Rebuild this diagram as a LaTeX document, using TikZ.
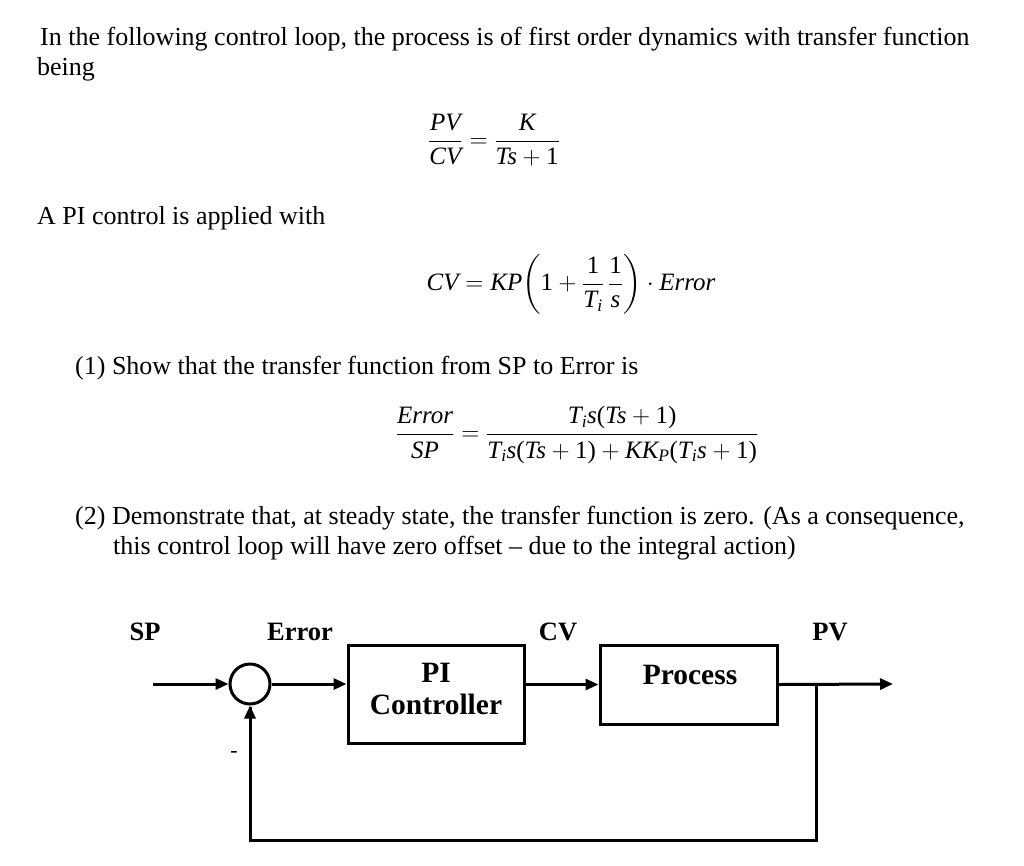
\documentclass[tikz,border=0pt]{standalone}
\usepackage{fix-cm}
\usepackage{amsmath}
\usepackage{fontspec}
\setmainfont{Liberation Serif}
\usetikzlibrary{arrows.meta}
\newcommand{\vi}[1]{\textit{#1}}
\newcommand{\vu}[1]{\textup{#1}}
\begin{document}
\begin{tikzpicture}[x=1pt,y=-1pt,
  txt/.style={anchor=base west, inner sep=0pt, font=\fontsize{26}{30}\selectfont},
  eq/.style={inner sep=0pt, font=\fontsize{25}{30}\selectfont},
  lbl/.style={inner sep=0pt, font=\fontsize{26.5}{30}\selectfont\bfseries},
  blk/.style={draw, line width=3pt, inner sep=0pt},
  blktxt/.style={inner sep=0pt, align=center, font=\fontsize{29.5}{34}\selectfont\bfseries},
  sumc/.style={draw, circle, line width=3pt, minimum size=40pt, inner sep=0pt},
  wire/.style={line width=3pt},
  arr/.style={wire, -{Triangle[length=13pt,width=11pt]}}
]
\useasboundingbox (0,0) rectangle (1024,865);
\fill[white] (0,0) rectangle (1024,865);

\node[txt] (t1) at (40,45) {In the following control loop, the process is of first order dynamics with transfer function};
\node[txt] (t2) at (37,75) {being};
\node[eq] (e1) at (494,140) {$\displaystyle\frac{\vi{PV}}{\vi{CV}}=\frac{\vi{K}}{\vi{Ts}+\vu{1}}$};
\node[txt] (t3) at (37,224) {A PI control is applied with};
\node[eq] (e2) at (571,284) {$\displaystyle \vi{CV} = \vi{KP}\!\left(\vu{1}+\frac{\vu{1}}{\vi{T}_{\vi{i}}}\,\frac{\vu{1}}{\vi{s}}\right)\cdot \vi{Error}$};
\node[txt] (t4) at (75,374) {(1) Show that the transfer function from SP to Error is};
\node[eq] (e3) at (577,435) {$\displaystyle\frac{\vi{Error}}{\vi{SP}}=\frac{\vi{T}_{\vi{i}}\vi{s}\vu{(}\vi{Ts}+\vu{1)}}{\vi{T}_{\vi{i}}\vi{s}\vu{(}\vi{Ts}+\vu{1)}+\vi{KK}_{\vi{P}}\vu{(}\vi{T}_{\vi{i}}\vi{s}+\vu{1)}}$};
\node[txt] (t5) at (75,524) {(2) Demonstrate that, at steady state, the transfer function is zero. (As a consequence,};
\node[txt] (t6) at (113,554) {this control loop will have zero offset – due to the integral action)};

% block diagram
\node[lbl] (lsp) at (145,632) {SP};
\node[lbl] (ler) at (300,632) {Error};
\node[lbl] (lcv) at (558,632) {CV};
\node[lbl] (lpv) at (830,632) {PV};

\node[sumc] (sum) at (250,684) {};
\node[blk, minimum width=176pt, minimum height=98pt] (pi) at (436,694) {};
\node[blktxt] (pitxt) at (436,689) {PI\\[-2pt]Controller};
\node[blk, minimum width=177pt, minimum height=79pt] (proc) at (688.5,684.5) {};
\node[blktxt] (proctxt) at (690,675) {Process};
\node[inner sep=0pt, font=\fontsize{22}{24}\selectfont] (minus) at (234,754) {-};

\coordinate (in) at (153,684);
\coordinate (out) at (893,684);
\coordinate (br) at (816,684);
\coordinate (c1) at (816,840);
\coordinate (c2) at (250,840);

\draw[arr] (in) -- (sum.west);
\draw[arr] (sum.east) -- (sum.east -| pi.west);
\draw[arr] (pi.east |- proc.west) -- (proc.west);
\draw[arr] (proc.east) -- (out);
\draw[wire, line join=miter] ([yshift=1.5pt]br) -- (c1) -- (c2) -- ([yshift=-1.5pt]c2 |- sum.south);
\draw[arr] (c2) -- (sum.south);
\end{tikzpicture}
\end{document}
